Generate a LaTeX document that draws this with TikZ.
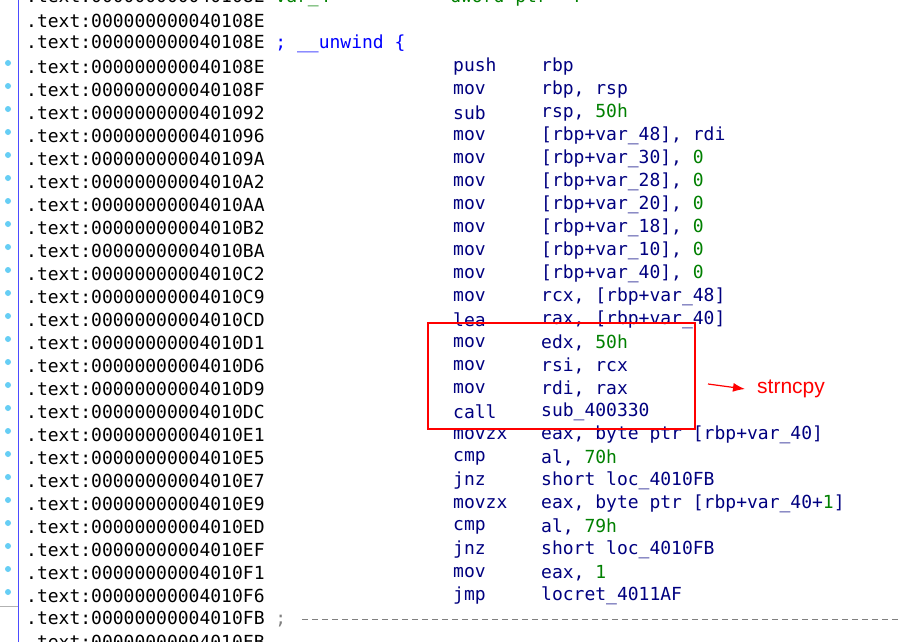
\documentclass[tikz,border=0pt]{standalone}
\usepackage{fontspec}
\usetikzlibrary{arrows.meta}
\setmonofont{DejaVu Sans Mono}
\setsansfont{Liberation Sans}
\begin{document}
\begin{tikzpicture}[x=1pt,y=-1pt,
  t/.style={anchor=west,inner sep=0pt,font=\ttfamily\fontsize{18}{18}\selectfont},
  dot/.style={circle,fill=cyan!60,inner sep=0pt,minimum size=6pt}]
\definecolor{nv}{RGB}{0,0,128}
\definecolor{gr}{RGB}{0,128,0}
\definecolor{cm}{RGB}{0,0,255}
\useasboundingbox (0,0) rectangle (902,642);
\fill[white] (0,0) rectangle (902,642);
\draw[blue!70,line width=1pt] (18,0) -- (18,642);
\foreach \a/\m/\o [count=\i from 1] in {
 40108E/push/{\textcolor{nv}{rbp}},
 40108F/mov/{\textcolor{nv}{rbp, rsp}},
 401092/sub/{\textcolor{nv}{rsp, }\textcolor{gr}{50h}},
 401096/mov/{\textcolor{nv}{[rbp+var\_48], rdi}},
 40109A/mov/{\textcolor{nv}{[rbp+var\_30], }\textcolor{gr}{0}},
 4010A2/mov/{\textcolor{nv}{[rbp+var\_28], }\textcolor{gr}{0}},
 4010AA/mov/{\textcolor{nv}{[rbp+var\_20], }\textcolor{gr}{0}},
 4010B2/mov/{\textcolor{nv}{[rbp+var\_18], }\textcolor{gr}{0}},
 4010BA/mov/{\textcolor{nv}{[rbp+var\_10], }\textcolor{gr}{0}},
 4010C2/mov/{\textcolor{nv}{[rbp+var\_40], }\textcolor{gr}{0}},
 4010C9/mov/{\textcolor{nv}{rcx, [rbp+var\_48]}},
 4010CD/lea/{\textcolor{nv}{rax, [rbp+var\_40]}},
 4010D1/mov/{\textcolor{nv}{edx, }\textcolor{gr}{50h}},
 4010D6/mov/{\textcolor{nv}{rsi, rcx}},
 4010D9/mov/{\textcolor{nv}{rdi, rax}},
 4010DC/call/{\textcolor{nv}{sub\_400330}},
 4010E1/movzx/{\textcolor{nv}{eax, byte ptr [rbp+var\_40]}},
 4010E5/cmp/{\textcolor{nv}{al, }\textcolor{gr}{70h}},
 4010E7/jnz/{\textcolor{nv}{short loc\_4010FB}},
 4010E9/movzx/{\textcolor{nv}{eax, byte ptr [rbp+var\_40+}\textcolor{gr}{1}\textcolor{nv}{]}},
 4010ED/cmp/{\textcolor{nv}{al, }\textcolor{gr}{79h}},
 4010EF/jnz/{\textcolor{nv}{short loc\_4010FB}},
 4010F1/mov/{\textcolor{nv}{eax, }\textcolor{gr}{1}},
 4010F6/jmp/{\textcolor{nv}{locret\_4011AF}}}{
  \node[t] (a\i) at (26,{44+23*\i}) {.text:0000000000\a};
  \node[t,text=nv] (m\i) at (453,{44+23*\i}) {\m};
  \node[t] (o\i) at (541,{44+23*\i}) {\o};
  \node[dot] (d\i) at (8,{40+23*\i}) {};
}
\node[t] (top) at (26,-2) {.text:000000000040108E \textcolor{gr}{var\_4}\hspace{5.5em}\textcolor{gr}{= dword ptr -4}};
\node[t] (b0) at (26,21) {.text:000000000040108E};
\node[t] (b1) at (26,44) {.text:000000000040108E \textcolor{cm}{; \_\_unwind \{}};
\node[t] (b2) at (26,619) {.text:00000000004010FB \textcolor{gray}{;}};
\node[t] (b3) at (26,642) {.text:00000000004010FB};
\draw[gray,dash pattern=on 6pt off 4pt] (302,619) -- (902,619);
\draw[gray!60] (0,606) -- (18,606);
\node[draw=red,line width=1.5pt,inner sep=0pt,minimum width=267pt,minimum height=106pt,anchor=north west] (box) at (427,322) {};
\coordinate (as) at (708,384);
\node[anchor=west,inner sep=0pt,text=red,font=\sffamily\fontsize{21}{22}\selectfont] (lab) at (757,389) {strncpy};
\draw[red,line width=1.2pt,-{Latex[length=12pt,width=9pt]}] (as) -- ([xshift=-12pt]lab.west);
\end{tikzpicture}
\end{document}
